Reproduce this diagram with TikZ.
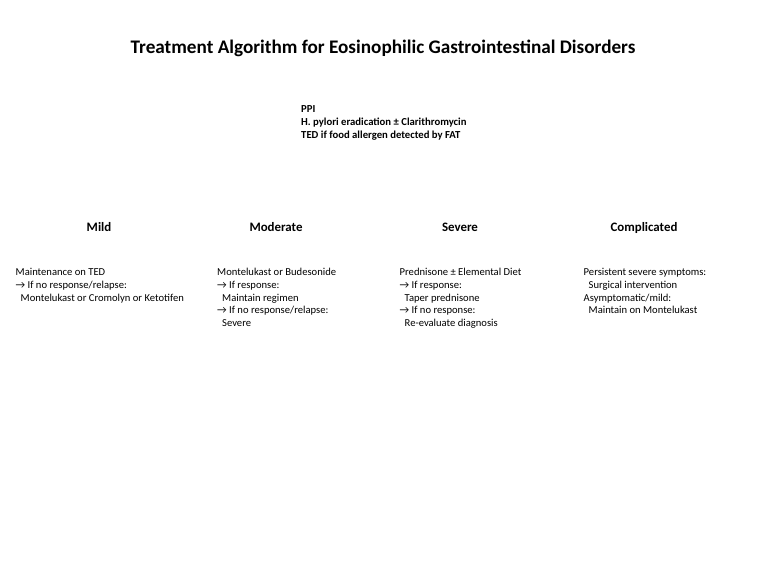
\documentclass[tikz,border=0pt]{standalone}
\usepackage{fontspec}
\setmainfont{Carlito}
\usepackage{tikz}
\usetikzlibrary{positioning}
\tikzstyle{titulo} = [font=\fontsize{19.2}{22}\selectfont\bfseries, inner sep=0pt, anchor=base]
\tikzstyle{inicio} = [font=\fontsize{10.7}{12.7}\selectfont\bfseries, align=left, inner sep=0pt, anchor=base west]
\tikzstyle{grado} = [font=\fontsize{12.9}{15}\selectfont\bfseries, inner sep=0pt, anchor=base]
\tikzstyle{pasos} = [font=\fontsize{10.6}{12.6}\selectfont, align=left, inner sep=0pt, anchor=base west]
\newcommand{\sangria}{\hspace*{5pt}}

\begin{document}
\begin{tikzpicture}[x=1pt, y=-1pt]
	\useasboundingbox (0,0) rectangle (768,576);
	\node [titulo] (title) at (383,53.2) {Treatment Algorithm for Eosinophilic Gastrointestinal Disorders};
	\node [inicio] (first) at (301,138) {PPI\\H. pylori eradication ± Clarithromycin\\TED if food allergen detected by FAT};
	\node [grado] (mild) at (99,231.7) {Mild};
	\node [grado] (moderate) at (276,231.7) {Moderate};
	\node [grado] (severe) at (460,231.7) {Severe};
	\node [grado] (complicated) at (644,231.7) {Complicated};
	\node [pasos] (mildtx) at (15.5,301) {Maintenance on TED\\→ If no response/relapse:\\\sangria Montelukast or Cromolyn or Ketotifen};
	\node [pasos] (moderatetx) at (217,326.2) {Montelukast or Budesonide\\→ If response:\\\sangria Maintain regimen\\→ If no response/relapse:\\\sangria Severe};
	\node [pasos] (severetx) at (399.5,326.2) {Prednisone ± Elemental Diet\\→ If response:\\\sangria Taper prednisone\\→ If no response:\\\sangria Re-evaluate diagnosis};
	\node [pasos] (complicatedtx) at (583.5,313.6) {Persistent severe symptoms:\\\sangria Surgical intervention\\Asymptomatic/mild:\\\sangria Maintain on Montelukast};
\end{tikzpicture}
\end{document}
